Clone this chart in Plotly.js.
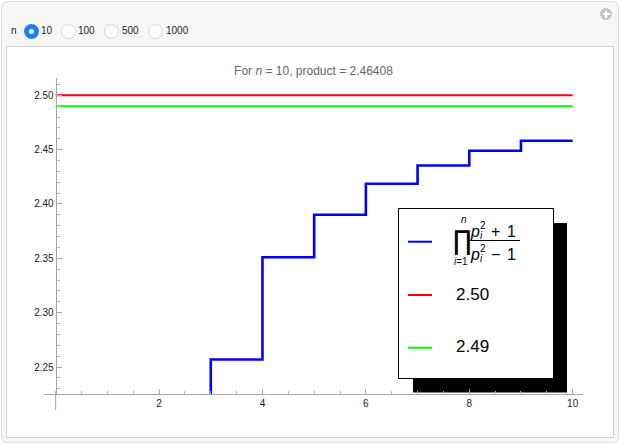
<!DOCTYPE html>
<html>
<head>
<meta charset="utf-8">
<script src="https://cdn.plot.ly/plotly-3.0.1.min.js"></script>
<style>
  html, body { margin:0; padding:0; width:620px; height:445px; overflow:hidden; background:#ffffff; font-family:"Liberation Sans", Arial, sans-serif; }
  #frame { position:absolute; left:1px; top:1px; width:616px; height:440px; background:#f6f6f6; border:1px solid #dedede; border-radius:6px; }
  #pane { position:absolute; left:6px; top:46px; width:606px; height:390px; background:#ffffff; border:1px solid #d2d2d2; }
  .lbl { position:absolute; font-size:10px; line-height:12px; color:#222; top:25px; }
  .rad { position:absolute; top:24px; width:15px; height:15px; border-radius:50%; box-sizing:border-box; background:#fff; border:1px solid #d4d4d4; }
  .rad.on { background:#fff; border:5px solid #1b7ff5; }
  #plus { position:absolute; left:600px; top:8px; width:12px; height:12px; border-radius:50%; background:#c4c4c4; }
  #plus:before { content:""; position:absolute; left:5px; top:2.5px; width:2px; height:7px; background:#fff; }
  #plus:after { content:""; position:absolute; left:2.5px; top:5px; width:7px; height:2px; background:#fff; }
  #chart { position:absolute; left:0; top:0; width:620px; height:445px; }
</style>
</head>
<body>
<div id="frame"></div>
<div id="pane"></div>
<div id="plus"></div>
<div class="lbl" style="left:11px;">n</div>
<div class="rad on" style="left:24px;"></div><div class="lbl" style="left:41px;">10</div>
<div class="rad" style="left:61px;"></div><div class="lbl" style="left:78px;">100</div>
<div class="rad" style="left:104px;"></div><div class="lbl" style="left:122px;">500</div>
<div class="rad" style="left:148px;"></div><div class="lbl" style="left:166px;">1000</div>
<div id="chart"></div>
<script>
// ---- data ----
const nValue = 10;
const productValue = 2.46408;
const stepX = [1, 2, 3, 4, 5, 6, 7, 8, 9, 10];
// running product over primes before each step
const stepProduct = [1.0, 1.66667, 2.08333, 2.25694, 2.35098, 2.39016, 2.41861, 2.43541, 2.44894, 2.45822];
const refX = [0, 10];
const ref250 = [2.50, 2.50];
const ref249 = [2.49, 2.49];
const xTickVals = [2, 4, 6, 8, 10];
const legendLabels = ["2.50", "2.49"];

// ---- layout helpers (pixel -> paper) ----
const L = 44, R = 37, T = 78, B = 51, W = 620, H = 445;
const PW = W - L - R, PH = H - T - B;
const px = p => (p - L) / PW;
const py = p => (H - B - p) / PH;
const FONT = "Liberation Sans, Arial, sans-serif";

const traces = [
  { x: stepX, y: stepProduct, type: "scatter", mode: "lines", line: { shape: "vh", color: "#0000ff", width: 2.6 }, name: "product", showlegend: false, hoverinfo: "skip" },
  { x: refX, y: ref250, type: "scatter", mode: "lines", line: { color: "#ff0000", width: 2 }, name: "2.50", showlegend: false, hoverinfo: "skip" },
  { x: refX, y: ref249, type: "scatter", mode: "lines", line: { color: "#00ff00", width: 2 }, name: "2.49", showlegend: false, hoverinfo: "skip" }
];

const shapes = [
  // y axis extension below the x axis
  { type: "line", xref: "x", yref: "paper", x0: 0, x1: 0, y0: 0, y1: py(410), line: { color: "#a6a6a6", width: 1 }, layer: "below" },
  // legend shadow and box
  { type: "rect", xref: "paper", yref: "paper", x0: px(413), x1: px(567), y0: py(223), y1: py(392.5), fillcolor: "#000000", line: { width: 0 }, layer: "below" },
  { type: "rect", xref: "paper", yref: "paper", x0: px(398.5), x1: px(553.5), y0: py(208.5), y1: py(378.5), fillcolor: "#ffffff", line: { color: "#000000", width: 1 }, layer: "below" },
  // legend samples
  { type: "line", xref: "paper", yref: "paper", x0: px(408), x1: px(432), y0: py(241.7), y1: py(241.7), line: { color: "#0000ff", width: 2 } },
  { type: "line", xref: "paper", yref: "paper", x0: px(408), x1: px(432), y0: py(295), y1: py(295), line: { color: "#ff0000", width: 2 } },
  { type: "line", xref: "paper", yref: "paper", x0: px(408), x1: px(432), y0: py(347.7), y1: py(347.7), line: { color: "#00ff00", width: 2 } },
  // fraction bar
  { type: "line", xref: "paper", yref: "paper", x0: px(469), x1: px(520), y0: py(240.5), y1: py(240.5), line: { color: "#000000", width: 1 } }
];

function ann(text, x, y, size, anchor, family) {
  return { text: text, xref: "paper", yref: "paper", x: px(x), y: py(y), xanchor: anchor || "left", yanchor: "middle",
    showarrow: false, borderpad: 0, font: { family: family || FONT, size: size, color: "#000" } };
}

const annotations = [
  ann(legendLabels[0], 455, 294, 17),
  ann(legendLabels[1], 455, 346.7, 17),
  ann("\u220F", 461.7, 240, 27, "center", "DejaVu Sans Condensed, DejaVu Sans"),
  ann("<i>n</i>", 464, 219.5, 10, "center"),
  ann("<i>i</i>=1", 461, 261, 10, "center"),
  ann("<i>p</i>", 469, 231.3, 16),
  ann("2", 478.5, 225, 10),
  ann("<i>i</i>", 478.5, 235, 10),
  ann("+", 495, 231.3, 16, "center"),
  ann("1", 511.5, 231.3, 16, "center"),
  ann("<i>p</i>", 469, 254.2, 16),
  ann("2", 478.5, 248.5, 10),
  ann("<i>i</i>", 478.5, 258.5, 10),
  ann("\u2212", 495, 254.2, 16, "center"),
  ann("1", 511.5, 254.2, 16, "center")
];

const layout = {
  width: W, height: H,
  margin: { l: L, r: R, t: T, b: B, pad: 0 },
  paper_bgcolor: "rgba(0,0,0,0)", plot_bgcolor: "rgba(0,0,0,0)",
  showlegend: false,
  title: { text: "For <i>n</i> = " + nValue + ", product = " + productValue, x: 0.5, xanchor: "center", xref: "paper", y: 1 - 70.5 / H, yanchor: "middle",
           font: { family: FONT, size: 12, color: "#666666" } },
  xaxis: {
    range: [-0.226, 10.2], showgrid: false, zeroline: false, showline: true, linecolor: "#a6a6a6", linewidth: 1,
    tickmode: "array", tickvals: xTickVals, ticks: "inside", ticklen: 5, tickcolor: "#a6a6a6", tickwidth: 1,
    tickfont: { family: FONT, size: 10, color: "#222" },
    minor: { dtick: 0.5, tick0: 0, ticks: "inside", ticklen: 3, tickcolor: "#b5b5b5", tickwidth: 1 }
  },
  yaxis: {
    range: [2.2252, 2.5159], anchor: "free", position: px(55.7), showgrid: false, zeroline: false, showline: true, linecolor: "#a6a6a6", linewidth: 1,
    dtick: 0.05, tick0: 2.25, tickformat: ".2f", ticks: "inside", ticklen: 5, tickcolor: "#a6a6a6", tickwidth: 1,
    tickfont: { family: FONT, size: 10, color: "#222" },
    minor: { dtick: 0.01, tick0: 2.25, ticks: "inside", ticklen: 3, tickcolor: "#b5b5b5", tickwidth: 1 }
  },
  shapes: shapes,
  annotations: annotations
};

Plotly.newPlot("chart", traces, layout, { displayModeBar: false, staticPlot: true });
</script>
</body>
</html>
